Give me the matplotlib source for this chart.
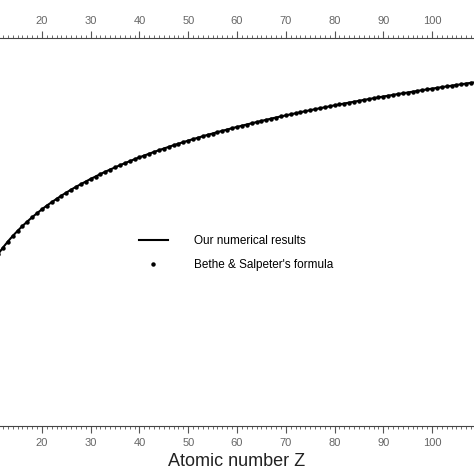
import matplotlib
matplotlib.use("Agg")
import matplotlib.pyplot as plt
from matplotlib.ticker import MultipleLocator

plt.rcParams['font.family'] = ['Liberation Sans', 'DejaVu Sans']

Z = list(range(11, 110))
values = [171.8,178.4,184.4,190.0,195.1,200.0,204.5,208.8,212.8,216.7,
220.4,223.8,227.1,230.4,233.4,236.4,239.2,241.9,244.5,247.1,
249.5,252.0,254.3,256.5,258.6,260.8,262.8,264.8,266.8,268.7,
270.5,272.3,274.1,275.8,277.5,279.1,280.8,282.3,283.9,285.4,
286.9,288.3,289.8,291.2,292.5,293.9,295.2,296.5,297.8,299.1,
300.3,301.5,302.7,303.9,305.1,306.2,307.4,308.5,309.6,310.6,
311.7,312.7,313.8,314.8,315.8,316.8,317.8,318.7,319.7,320.7,
321.6,322.5,323.4,324.3,325.2,326.1,326.9,327.8,328.6,329.5,
330.3,331.1,332.0,332.7,333.5,334.3,335.1,335.9,336.6,337.4,
338.1,338.9,339.6,340.3,341.1,341.7,342.5,343.2,343.8]

fig = plt.figure(figsize=(4.74, 4.74), dpi=100)
ax = fig.add_axes([0, 48/474, 1, 1 - 48/474 - 38/474])
ax.plot(Z, values, color='black', lw=1.5, label='Our numerical results')
ax.plot(Z, values, 'o', color='black', ms=2.2, label="Bethe & Salpeter's formula")
ax.set_xlim(11.4, 108.6)
ax.set_ylim(0, 388)
for s in ['left', 'right']:
    ax.spines[s].set_visible(False)
for s in ['top', 'bottom']:
    ax.spines[s].set_color('#444444')
    ax.spines[s].set_linewidth(0.8)
ax.set_yticks([])
ax.xaxis.set_major_locator(MultipleLocator(10))
ax.xaxis.set_minor_locator(MultipleLocator(1))
ax.tick_params(axis='x', which='both', top=True, labeltop=True, direction='out',
               colors='#555555', labelsize=8, labelcolor='#666666')
ax.tick_params(axis='x', which='major', length=5, width=0.8)
ax.tick_params(axis='x', which='minor', length=2.5, width=0.6)
ax.set_xlabel('Atomic number Z', fontsize=13, color='#222222', labelpad=4)
ax.legend(loc='upper left', bbox_to_anchor=(0.27, 0.52), frameon=False, fontsize=8.5,
          handlelength=2.5, handletextpad=2.2, labelspacing=1.0)
fig.savefig('out.png', dpi=100)
